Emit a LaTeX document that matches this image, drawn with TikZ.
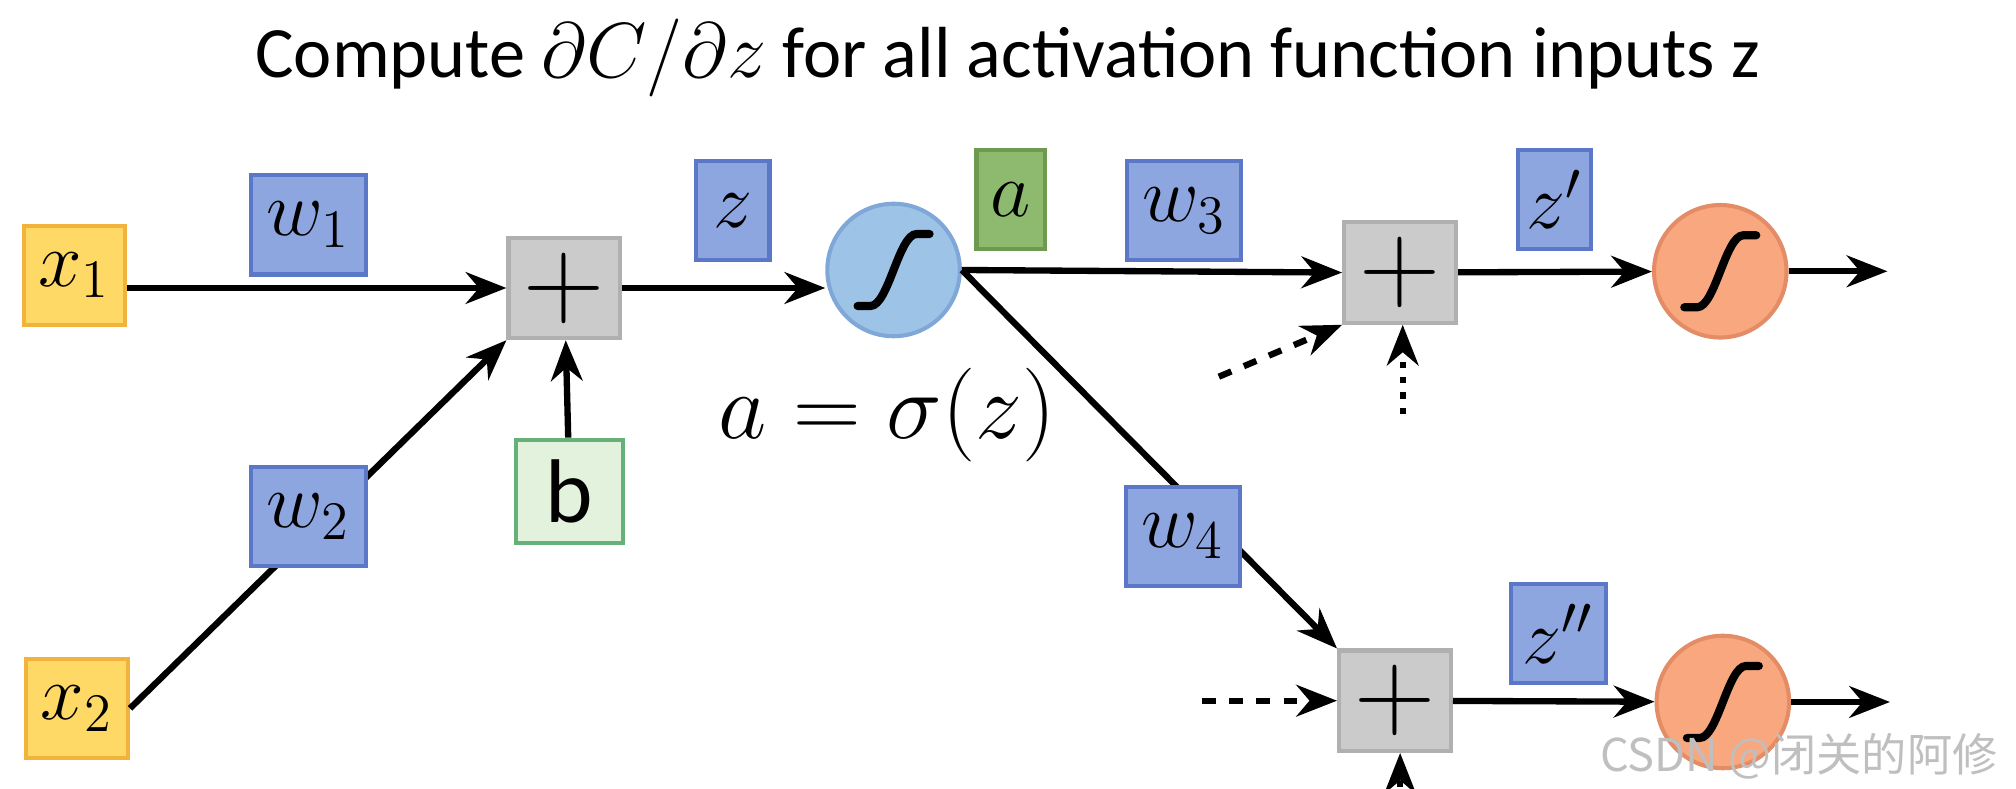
\documentclass[tikz,border=0pt]{standalone}
\usepackage{fontspec}
\setmainfont{Carlito}
\newfontfamily\cjkfont{Noto Sans CJK SC}
\usetikzlibrary{arrows.meta}
\definecolor{inbox}{HTML}{FFD966}
\definecolor{inedge}{HTML}{F2B33D}
\definecolor{wbox}{HTML}{8EA6E0}
\definecolor{wedge}{HTML}{5B78C8}
\definecolor{sumbox}{HTML}{CBCBCB}
\definecolor{sumedge}{HTML}{B0B0B0}
\definecolor{bbox}{HTML}{E3F2DD}
\definecolor{bedge}{HTML}{66B07A}
\definecolor{abox}{HTML}{8DBA6E}
\definecolor{aedge}{HTML}{6E9A4F}
\definecolor{sigblue}{HTML}{9DC3E6}
\definecolor{sigbedge}{HTML}{7FA8D8}
\definecolor{sigorange}{HTML}{F8A77E}
\definecolor{sigoedge}{HTML}{E48C66}
\begin{document}
\begin{tikzpicture}[x=0.01cm,y=-0.01cm,
  box/.style={draw,line width=0.9pt,inner sep=0pt,font=\fontsize{18}{20}\selectfont},
  inp/.style={box,fill=inbox,draw=inedge,minimum width=0.79cm,minimum height=0.77cm},
  wt/.style={box,fill=wbox,draw=wedge,minimum width=0.89cm,minimum height=0.77cm},
  zz/.style={box,fill=wbox,draw=wedge,minimum width=0.57cm,minimum height=0.77cm},
  sum/.style={box,fill=sumbox,draw=sumedge,minimum width=0.87cm,minimum height=0.78cm,font=\fontsize{24}{24}\selectfont},
  neuron/.style={circle,draw,line width=0.9pt,minimum size=1.03cm,inner sep=0pt},
  con/.style={line width=1.4pt,-{Stealth[length=9pt,width=7pt]}},
  sig/.style={line width=1.8pt,line cap=round}]
\useasboundingbox (0,0) rectangle (1568,613);
% title
\node (title) at (784,45) {\fontsize{16}{20}\selectfont Compute $\partial C/\partial z$ for all activation function inputs z};
% inputs and weights
\node[inp] (x1) at (58,214) {$x_1$};
\node[inp] (x2) at (60,551) {$x_2$};
\node[sum] (s1) at (439,224) {$+$};
\node[box,fill=bbox,draw=bedge,minimum width=0.83cm,minimum height=0.8cm,font=\fontsize{20}{20}\selectfont] (b) at (443,382) {b};
\draw[con] (s1.west -| x1.east) -- (s1.west);
\draw[con] (x2.east) -- (s1.south west);
\draw[con] (b) -- (s1);
\node[wt] (w1) at (240,175) {$w_1$};
\node[wt] (w2) at (240,402) {$w_2$};
% first neuron
\node[neuron,fill=sigblue,draw=sigbedge] (n1) at (695,210) {};
\draw[sig] (n1.center) ++(-28,28) -- ++(10,0) .. controls +(14,0) and +(-14,0) .. ++(36,-56) -- ++(10,0);
\node[zz] (z) at (570,164) {$z$};
\node[box,fill=abox,draw=aedge,minimum width=0.53cm,minimum height=0.77cm] (a) at (786,155) {$a$};
\node[font=\fontsize{20}{24}\selectfont] (alab) at (690,323) {$a=\sigma(z)$};
\draw[con] (s1.east) -- (n1.west |- s1.east);
% second layer
\node[sum] (s2) at (1089,212) {$+$};
\node[sum] (s3) at (1085,545) {$+$};
\draw[con] (n1.east) -- (s2.west);
\draw[con] (n1.east) -- (s3.north west);
\node[wt] (w3) at (921,164) {$w_3$};
\node[wt] (w4) at (920,417) {$w_4$};
\node[neuron,fill=sigorange,draw=sigoedge] (n2) at (1338,211) {};
\node[neuron,fill=sigorange,draw=sigoedge] (n3) at (1340,546) {};
\foreach \n in {n2,n3}
  \draw[sig] (\n.center) ++(-28,28) -- ++(10,0) .. controls +(14,0) and +(-14,0) .. ++(36,-56) -- ++(10,0);
\draw[con] (s2) -- (n2);
\draw[con] (s3) -- (n3);
\coordinate (o2) at (1468,211);
\coordinate (o3) at (1470,546);
\draw[con] (n2) -- (o2);
\draw[con] (n3) -- (o3);
\node[zz] (z1) at (1209,155) {$z'$};
\node[box,fill=wbox,draw=wedge,minimum width=0.74cm,minimum height=0.77cm] (z2) at (1212,493) {$z''$};
% other inputs
\coordinate (d1) at (948,293);
\coordinate (d2) at (1091,322);
\coordinate (d3) at (935,545);
\coordinate (d4) at (1089,612);
\draw[con,dashed] (d1) -- (s2.south west);
\draw[con,dotted] (d2) -- (s2.south -| d2);
\draw[con,dashed] (d3) -- (s3.west);
\draw[con,dotted] (d4) -- (s3.south -| d4);
\node[text=black!25,font=\fontsize{10}{12}\selectfont\cjkfont,anchor=east] (mark) at (1566,588) {CSDN @闭关的阿修};
\end{tikzpicture}
\end{document}
